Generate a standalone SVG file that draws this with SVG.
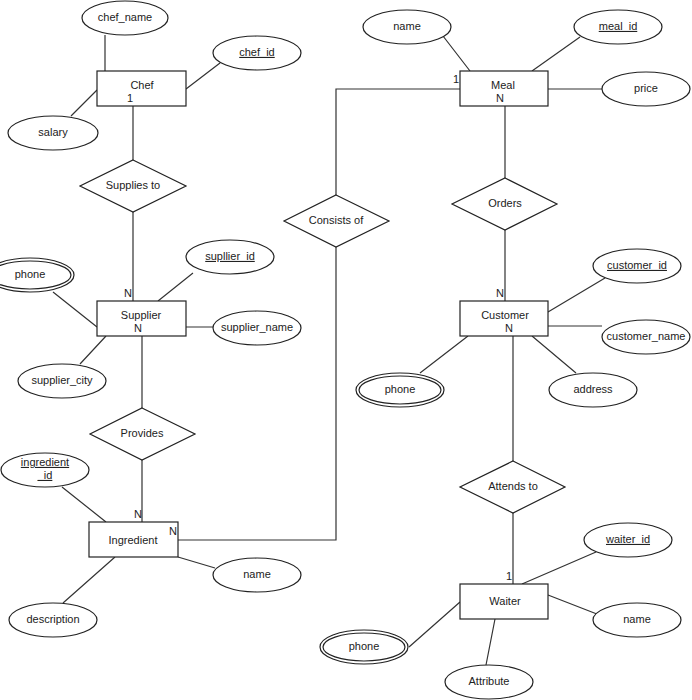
<svg xmlns="http://www.w3.org/2000/svg" width="692" height="700" viewBox="0 0 692 700">
<style>
.s{fill:#fff;stroke:#222;stroke-width:1.2}
.l{fill:none;stroke:#333;stroke-width:1.2}
text{font-family:"Liberation Sans",Arial,sans-serif;font-size:11px;fill:#222;text-anchor:middle;dominant-baseline:middle}
.u{text-decoration:underline}
</style>
<rect width="692" height="700" fill="#fff"/>
<g id="connectors">
<path class="l" d="M105,35V71 M186,89L220,63 M97,90L71,116 M133,106V160 M133,212V301 M158,301L193,273 M53,292L97,327 M186,327H213 M106,336L80,364 M142,336V408 M142,460V522 M62,487L106,522 M178,557L215,568 M115,557L63,603 M178,540H336V247 M336,195V89H460 M443,36L470,71 M580,37L532,71 M548,89H602 M505,106V178 M505,230V301 M548,312L605,278 M548,326H602 M468,336L420,373 M532,336L576,373 M513,336V461 M513,513V584 M522,584L596,552 M548,595L602,616 M460,602L409,647 M495,619L486,665"/>
</g>
<g id="chef"><rect class="s" x="97" y="71" width="89" height="35"/><text x="142" y="86">Chef</text><text x="130" y="99">1</text></g>
<g id="chef_name"><ellipse class="s" cx="125" cy="18" rx="43" ry="17"/><text x="125" y="18">chef_name</text></g>
<g id="chef_id"><ellipse class="s" cx="257" cy="53" rx="44" ry="17"/><text class="u" x="257" y="53">chef_id</text></g>
<g id="salary"><ellipse class="s" cx="53" cy="133" rx="45" ry="17"/><text x="53" y="133">salary</text></g>
<g id="supplies_to"><polygon class="s" points="133,160 186,186 133,212 80,186"/><text x="133" y="186">Supplies to</text></g>
<g id="supplier"><rect class="s" x="97" y="301" width="89" height="35"/><text x="141" y="316">Supplier</text><text x="138" y="329">N</text><text x="128" y="294">N</text></g>
<g id="supplier_id"><ellipse class="s" cx="230" cy="257" rx="44" ry="17"/><text class="u" x="230" y="257">supllier_id</text></g>
<g id="supplier_phone"><ellipse class="s" cx="30" cy="275" rx="44" ry="17"/><ellipse class="s" cx="30" cy="275" rx="41" ry="14"/><text x="30" y="275">phone</text></g>
<g id="supplier_name"><ellipse class="s" cx="257" cy="328" rx="44" ry="17"/><text x="257" y="328">supplier_name</text></g>
<g id="supplier_city"><ellipse class="s" cx="62" cy="381" rx="44" ry="17"/><text x="62" y="381">supplier_city</text></g>
<g id="provides"><polygon class="s" points="142,408 195,434 142,460 90,434"/><text x="142" y="434">Provides</text></g>
<g id="ingredient"><rect class="s" x="89" y="522" width="89" height="35"/><text x="133" y="541">Ingredient</text><text x="138" y="515">N</text><text x="173" y="532">N</text></g>
<g id="ingredient_id"><ellipse class="s" cx="45" cy="470" rx="44" ry="17"/><text class="u" x="45" y="463">ingredient</text><text class="u" x="45" y="476">_id</text></g>
<g id="ingredient_name"><ellipse class="s" cx="257" cy="575" rx="44" ry="17"/><text x="257" y="575">name</text></g>
<g id="description"><ellipse class="s" cx="53" cy="620" rx="44" ry="17"/><text x="53" y="620">description</text></g>
<g id="consists_of"><polygon class="s" points="336,195 389,221 336,247 284,221"/><text x="336" y="221">Consists of</text></g>
<g id="meal"><rect class="s" x="460" y="71" width="88" height="35"/><text x="503" y="86">Meal</text><text x="500" y="99">N</text><text x="456" y="80">1</text></g>
<g id="meal_name"><ellipse class="s" cx="407" cy="27" rx="44" ry="17"/><text x="407" y="27">name</text></g>
<g id="meal_id"><ellipse class="s" cx="618" cy="27" rx="44" ry="17"/><text class="u" x="618" y="27">meal_id</text></g>
<g id="price"><ellipse class="s" cx="646" cy="89" rx="44" ry="17"/><text x="646" y="89">price</text></g>
<g id="orders"><polygon class="s" points="505,178 557,204 505,230 452,204"/><text x="505" y="204">Orders</text></g>
<g id="customer"><rect class="s" x="460" y="301" width="88" height="35"/><text x="505" y="316">Customer</text><text x="509" y="329">N</text><text x="500" y="294">N</text></g>
<g id="customer_id"><ellipse class="s" cx="637" cy="266" rx="44" ry="17"/><text class="u" x="637" y="266">customer_id</text></g>
<g id="customer_name"><ellipse class="s" cx="646" cy="337" rx="44" ry="17"/><text x="646" y="337">customer_name</text></g>
<g id="customer_phone"><ellipse class="s" cx="400" cy="390" rx="44" ry="17"/><ellipse class="s" cx="400" cy="390" rx="41" ry="14"/><text x="400" y="390">phone</text></g>
<g id="address"><ellipse class="s" cx="593" cy="390" rx="44" ry="17"/><text x="593" y="390">address</text></g>
<g id="attends_to"><polygon class="s" points="513,461 565,487 513,513 460,487"/><text x="513" y="487">Attends to</text></g>
<g id="waiter"><rect class="s" x="460" y="584" width="88" height="35"/><text x="505" y="602">Waiter</text><text x="509" y="577">1</text></g>
<g id="waiter_id"><ellipse class="s" cx="628" cy="540" rx="44" ry="17"/><text class="u" x="628" y="540">waiter_id</text></g>
<g id="waiter_name"><ellipse class="s" cx="637" cy="620" rx="44" ry="17"/><text x="637" y="620">name</text></g>
<g id="waiter_phone"><ellipse class="s" cx="364" cy="647" rx="44" ry="17"/><ellipse class="s" cx="364" cy="647" rx="41" ry="14"/><text x="364" y="647">phone</text></g>
<g id="attribute"><ellipse class="s" cx="489" cy="682" rx="44" ry="17"/><text x="489" y="682">Attribute</text></g>
</svg>
